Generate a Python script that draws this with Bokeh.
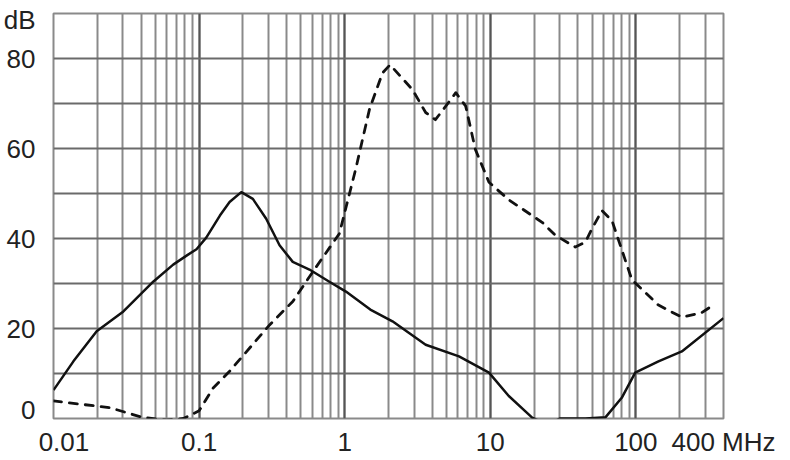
from bokeh.plotting import figure
from bokeh.models import LogTicker, FixedTicker, Range1d
from bokeh.embed import file_html
from bokeh.resources import INLINE

# --- data ---
solid_f = [0.01, 0.0137, 0.0198, 0.0302, 0.0484, 0.0664, 0.083, 0.096, 0.112, 0.139,
           0.162, 0.195, 0.234, 0.289, 0.357, 0.44, 0.573, 0.785, 1.02, 1.5, 2.13,
           3.6, 6.1, 9.8, 13.4, 19.4, 25, 30, 45, 62, 80, 99, 143, 207, 400]
solid_db = [6.3, 12.7, 19.4, 23.8, 30.4, 34.2, 36.3, 37.6, 40.2, 45.1,
            48.1, 50.3, 48.8, 44.4, 38.5, 34.8, 33.1, 30.4, 28.2, 24.2, 21.6,
            16.4, 13.8, 10.2, 5.0, 0.2, -1.5, 0, 0, 0.3, 4.6, 10.2, 12.7, 14.9, 22.3]

dash_f = [0.01, 0.0244, 0.0414, 0.06, 0.078, 0.1, 0.125, 0.162, 0.305, 0.44, 0.604,
          0.92, 1.19, 1.48, 1.82, 2.05, 2.92, 3.6, 4.2, 4.95, 5.8, 6.78, 7.9, 9.8,
          13.4, 22.7, 28, 38.4, 45, 50, 58.5, 68.5, 94, 143, 207, 283, 340]
dash_db = [3.9, 2.4, 0.2, -0.3, 0, 1.7, 6.8, 10.5, 20.8, 26, 32.6,
           41.1, 55.4, 68.7, 76.8, 78.6, 73.1, 68, 66.4, 69.4, 72.4, 69.4, 59.8, 52.5,
           48.6, 43.6, 40.7, 38.1, 39.2, 42.2, 46.2, 44, 30.8, 25.2, 22.5, 23.5, 25.2]

# tick label positions (value -> text); the edge labels sit just inside the ends
x_ticks = [0.0118, 0.1, 1, 10, 100, 400]
x_tick_labels = ["0.01", "0.1", "1", "10", "100", "400 MHz"]
y_ticks = [1.8, 20, 40, 60, 80, 88.6]
y_tick_labels = ["0", "20", "40", "60", "80", "dB"]
y_grid = [0, 10, 20, 30, 40, 50, 60, 70, 80, 90]

FONT = "Liberation Sans"
FS = "26px"

p = figure(width=783, height=459, x_axis_type="log",
           x_range=Range1d(0.01, 400), y_range=Range1d(0, 90),
           output_backend="svg", toolbar_location=None,
           min_border_left=50, min_border_right=60, min_border_top=13, min_border_bottom=0)

p.background_fill_color = "white"
p.border_fill_color = "white"
p.outline_line_color = "#8a8a8a"
p.outline_line_width = 2

# axes
p.xaxis.ticker = FixedTicker(ticks=x_ticks)
p.xaxis.major_label_overrides = {t: l for t, l in zip(x_ticks, x_tick_labels)}
p.yaxis.ticker = FixedTicker(ticks=y_ticks)
p.yaxis.major_label_overrides = {t: l for t, l in zip(y_ticks, y_tick_labels)}
for ax in (p.xaxis[0], p.yaxis[0]):
    ax.axis_line_color = None
    ax.major_tick_line_color = None
    ax.minor_tick_line_color = None
    ax.major_label_text_font = FONT
    ax.major_label_text_font_size = FS
    ax.major_label_text_color = "#222222"
p.xaxis.major_label_standoff = 2
p.yaxis.major_label_standoff = 12

# grids
p.xgrid.ticker = LogTicker(num_minor_ticks=10)
p.xgrid.grid_line_color = "#555555"
p.xgrid.grid_line_width = 2
p.xgrid.minor_grid_line_color = "#8a8a8a"
p.xgrid.minor_grid_line_width = 2
p.ygrid.ticker = FixedTicker(ticks=y_grid)
p.ygrid.grid_line_color = "#6a6a6a"
p.ygrid.grid_line_width = 2

# curves
p.line(solid_f, solid_db, line_color="#111111", line_width=2.5, line_join="round")
p.line(dash_f, dash_db, line_color="#111111", line_width=2.8, line_dash="8 8",
       line_join="round", line_cap="round")

open("out.html", "w").write(file_html(p, INLINE))
